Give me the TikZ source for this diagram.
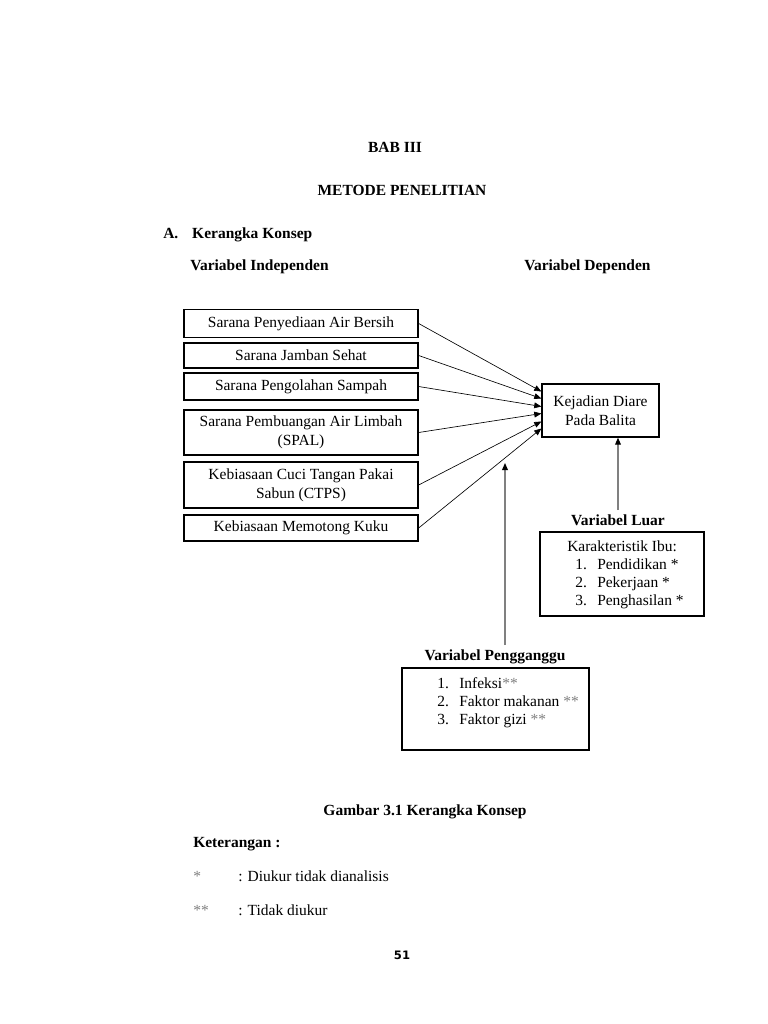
\documentclass[tikz,border=0pt]{standalone}
\usepackage{fontspec}
\setmainfont{Liberation Serif}
\newfontfamily\pagefont{DejaVu Sans}
\usetikzlibrary{arrows.meta,calc}

\newdimen\pxu \pxu=0.775pt

\begin{document}
\begin{tikzpicture}[x=0.775pt,y=-0.775pt,
  font=\fontsize{12}{14.5}\selectfont,
  varbox/.style={draw,line width=1pt,minimum width=234\pxu,align=center,inner sep=0pt},
  listbox/.style={draw,line width=1.4pt,inner sep=0pt},
  head/.style={font=\fontsize{12}{14.5}\selectfont\bfseries,inner sep=0pt},
  txt/.style={inner sep=0pt},
  arr/.style={-{Triangle[length=5.5pt,width=4.5pt]},line width=0.5pt},
  garr/.style={-{Triangle[length=5.5pt,width=4.5pt,color=black]},line width=0.9pt,gray}]

\useasboundingbox[fill=white] (0,0) rectangle (768,1024);

% judul
\node[head,anchor=base] (bab) at (395,152) {BAB III};
\node[head,anchor=base] (metode) at (402,195) {METODE PENELITIAN};
\node[head,anchor=base west] (subA) at (163,238) {\makebox[29\pxu][l]{A.}Kerangka Konsep};
\node[head,anchor=base west] (indep) at (190,270) {Variabel Independen};
\node[head,anchor=base west] (dep) at (524,270) {Variabel Dependen};

% variabel independen
\node[varbox,minimum height=28\pxu] (b1) at (301,323.5) {Sarana Penyediaan Air Bersih};
\node[varbox,minimum height=25\pxu] (b2) at (301,355.5) {Sarana Jamban Sehat};
\node[varbox,minimum height=27\pxu] (b3) at (301,386.5) {Sarana Pengolahan Sampah};
\node[varbox,minimum height=45\pxu] (b4) at (301,432.5) {Sarana Pembuangan Air Limbah\\(SPAL)};
\node[varbox,minimum height=46\pxu] (b5) at (301,485) {Kebiasaan Cuci Tangan Pakai\\Sabun (CTPS)};
\node[varbox,minimum height=26\pxu] (b6) at (301,528) {Kebiasaan Memotong Kuku};

% variabel dependen
\node[varbox,minimum width=117\pxu,minimum height=53\pxu] (kd) at (600.5,410.5) {Kejadian Diare\\Pada Balita};

\foreach \b/\dy in {b1/-19,b2/-12,b3/-4,b4/3,b5/11,b6/18}
  \draw[arr] (\b.east) -- ($(kd.west)+(0,\dy)$);

% variabel luar
\node[head,anchor=base] (luar) at (618,525) {Variabel Luar};
\node[listbox,minimum width=164\pxu,minimum height=84\pxu] (kar) at (622,574) {};
\node[txt,anchor=base west] (karIbu) at (567,551) {Karakteristik Ibu:};
\foreach \n/\t in {1/Pendidikan *,2/Pekerjaan *,3/Penghasilan *}
  \node[txt,anchor=base west] (kar\n) at (575,{551+18*\n}) {\makebox[22\pxu][l]{\n.}\t};
\draw[garr] ($(luar.north)+(0,-4)$) -- (luar.north |- kd.south);

% variabel pengganggu
\node[head,anchor=base] (pglabel) at (495,660) {Variabel Pengganggu};
\node[listbox,line width=1.6pt,minimum width=187\pxu,minimum height=82\pxu] (pg) at (495.5,709) {};
\foreach \n/\t in {1/Infeksi\textcolor{gray}{**},2/Faktor makanan \textcolor{gray}{**},3/Faktor gizi \textcolor{gray}{**}}
  \node[txt,anchor=base west] (pg\n) at (437,{670+18*\n}) {\makebox[22\pxu][l]{\n.}\t};
\coordinate (pgtip) at (505,463);
\draw[garr] ($(pglabel.north -| pgtip)+(0,-4)$) -- (pgtip);

% keterangan
\node[head,anchor=base] (cap) at (425,815) {Gambar 3.1 Kerangka Konsep};
\node[head,anchor=base west] (ket) at (193,847) {Keterangan :};
\node[txt,anchor=base west,gray] (s1) at (193,881) {*};
\node[txt,anchor=base west] (s1t) at (238,881) {: Diukur tidak dianalisis};
\node[txt,anchor=base west,gray] (s2) at (193,915) {**};
\node[txt,anchor=base west] (s2t) at (238,915) {: Tidak diukur};
\node[txt,anchor=base,font=\pagefont\fontsize{9}{11}\selectfont\bfseries] (page) at (402,959) {51};

\end{tikzpicture}
\end{document}
